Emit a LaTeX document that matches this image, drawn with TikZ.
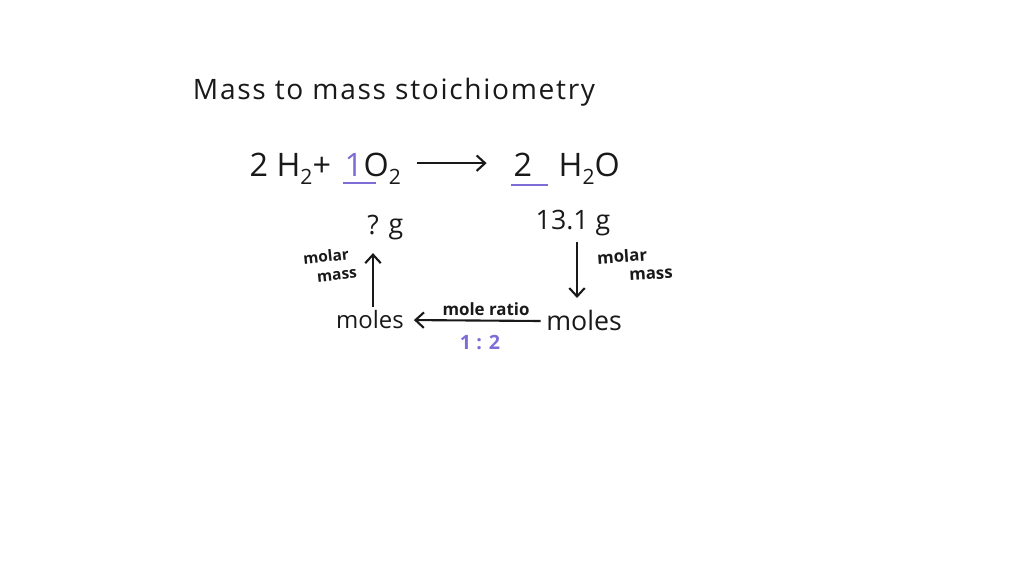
\documentclass[tikz,border=0pt]{standalone}
\usepackage{fontspec}
\setmainfont{Open Sans}
\usetikzlibrary{arrows.meta}
\definecolor{ink}{RGB}{25,25,25}
\definecolor{penblue}{RGB}{125,110,215}
\newcommand{\lowsub}[1]{\raisebox{-0.45ex}{\fontsize{15}{15}\selectfont #1}}
\tikzset{
  arr/.style={line width=1.5pt, draw=ink, -{Straight Barb[length=6pt,width=11pt]}},
  big/.style={font=\fontsize{23}{26}\selectfont, text=ink, inner sep=1pt, anchor=base west},
  mid/.style={font=\fontsize{19}{22}\selectfont, text=ink, inner sep=1pt},
  small/.style={font=\bfseries\fontsize{11}{11}\selectfont, text=ink, inner sep=0pt}
}
\begin{document}
\begin{tikzpicture}[x=0.025cm, y=-0.025cm]
                \useasboundingbox (0,0) rectangle (1024,576);
                
                % Title
                \node (title) [anchor=west, font=\addfontfeature{LetterSpace=6}\fontsize{20}{24}\selectfont, text=ink] at (188,92) {Mass to mass stoichiometry};
                
                % Equation
                \node (htwo) [big] at (248,177) {2 H\lowsub{2}+};
                \node (one) [big, text=penblue] at (343,177) {1};
                \draw [penblue, line width=1.5pt] (343,183) -- (376,183);%
                \node (otwo) [big] at (362,177) {O\lowsub{2}};
                \node (wcoef) [big] at (512,177) {2};
                \draw [penblue, line width=1.5pt] (511,185) -- (548,185);%
                \node (water) [big] at (557,177) {H\lowsub{2}O};
                \draw [arr] (otwo.east) ++(14,-6) -- ++(70,0);%
                
                % Masses
                \node (qmark) [mid] at (373,225) {?};
                \node (qg) [mid, anchor=west] at (387,229) {g};
                \node (mass) [mid] at (573,223) {13.1 g};
                
                % Moles
                \node (molesL) [mid, font=\fontsize{17}{20}\selectfont] at (370,320) {moles};
                \node (molesR) [mid] at (584,320) {moles};
                
                % Conversions
                \draw [arr] (molesL.north) ++(3,-2) -- ++(0,-54);%
                \node (mmLa) [small, rotate=6] at (326,256) {molar};
                \node (mmLb) [small, rotate=6] at (337,276) {mass};
                \draw [arr] (577,242) -- (577,298);%
                \node (mmRa) [small, font=\bfseries\fontsize{12}{12}\selectfont, rotate=4] at (622,256) {molar};
                \node (mmRb) [small, font=\bfseries\fontsize{12}{12}\selectfont, rotate=3] at (651,275) {mass};
                \draw [arr, shorten >=6pt] (molesR.west) ++(-4,1) -- (molesL.east);%
                \node (ratio) [small, font=\bfseries\fontsize{12}{12}\selectfont] at (486,309) {mole ratio};
                \node (onetwo) [small, text=penblue, font=\bfseries\fontsize{14}{14}\selectfont] at (480,343) {1 : 2};
\end{tikzpicture}
\end{document}
